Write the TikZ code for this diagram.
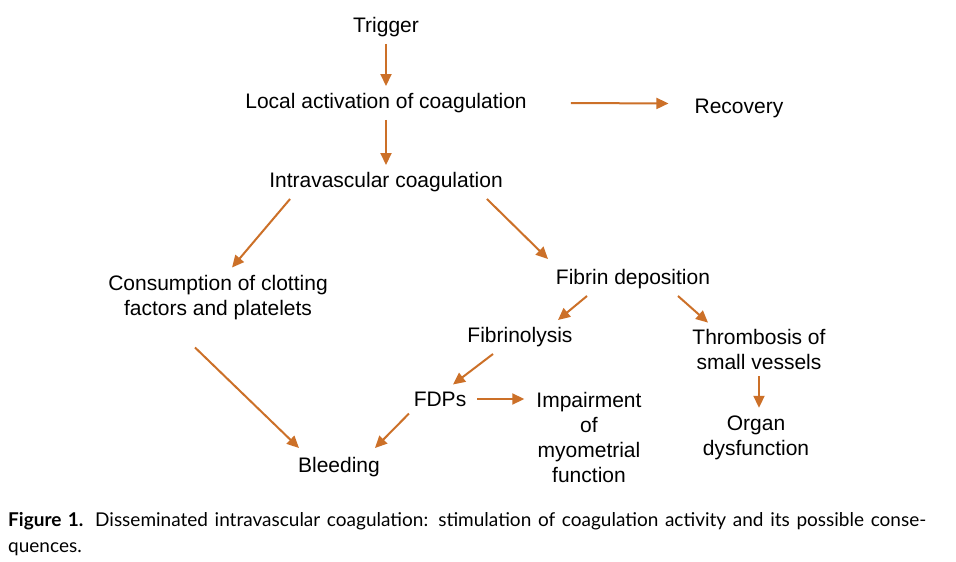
\documentclass[tikz,border=0pt]{standalone}
\usepackage{fontspec}
\setmainfont{Liberation Sans}
\newfontfamily\capfont{Lato}
\usetikzlibrary{arrows.meta}
\definecolor{arrc}{RGB}{204,112,40}
\begin{document}
\begin{tikzpicture}[x=1pt,y=-1pt,
  lbl/.style={inner sep=0pt,align=center,font=\fontsize{21}{25}\selectfont},
  arr/.style={draw=arrc,line width=2pt,-{Triangle[length=12pt,width=11pt]},arrc}]
\useasboundingbox[fill=white] (0,0) rectangle (956,562);
\node[lbl] (trig) at (386,27) {Trigger};
\node[lbl] (loc) at (386,103) {Local activation of coagulation};
\node[lbl] (rec) at (739,108) {Recovery};
\node[lbl] (intra) at (386,182) {Intravascular coagulation};
\node[lbl] (cons) at (218,298) {Consumption of clotting\\factors and platelets};
\node[lbl] (fib) at (633,279) {Fibrin deposition};
\node[lbl] (fly) at (520,337) {Fibrinolysis};
\node[lbl] (thr) at (759,349) {Thrombosis of\\small vessels};
\node[lbl] (fdp) at (440,399) {FDPs};
\node[lbl] (imp) at (589,437) {Impairment\\of\\myometrial\\function};
\node[lbl] (org) at (756,438) {Organ\\dysfunction};
\node[lbl] (bld) at (339,467) {Bleeding};
\draw[arr] ([yshift=-7]trig.south) -- ([yshift=7]loc.north);
\draw[arr] ([yshift=-7]loc.south) -- ([yshift=7]intra.north);
\draw[arr] ([xshift=44]loc.east) -- ([xshift=-26,yshift=4.5]rec.west);
\draw[arr] ([shift={(21,7)}]intra.south west) -- ([shift={(14,-8)}]cons.north);
\draw[arr] ([shift={(-16,7)}]intra.south east) -- ([shift={(-85,-10)}]fib.north);
\draw[arr] ([shift={(-46,7)}]fib.south) -- ([shift={(38,-7)}]fly.north);
\draw[arr] ([shift={(45,7)}]fib.south) -- ([shift={(-51,-6)}]thr.north);
\draw[arr] ([shift={(-27,7)}]fly.south) -- ([shift={(13,-7)}]fdp.north);
\draw[arr] ([xshift=11]fdp.east) -- ([xshift=-12,yshift=38]imp.west);
\draw[arr] ([shift={(-31,7)}]fdp.south) -- ([shift={(36,-9)}]bld.north);
\draw[arr] ([shift={(-23,27)}]cons.south) -- ([shift={(-40,-9)}]bld.north);
\draw[arr] ([yshift=-7]thr.south) -- ([yshift=8,xshift=3]org.north);
\node[anchor=north west,inner sep=0pt,text width=918pt,align=justify,font=\capfont\fontsize{19}{26}\selectfont] (cap) at (8,512)
{\hyphenpenalty=10000\exhyphenpenalty=10000\textbf{Figure 1.} Disseminated intravascular coagulation: stimulation of coagulation activity and its possible consequences.};
\end{tikzpicture}
\end{document}
